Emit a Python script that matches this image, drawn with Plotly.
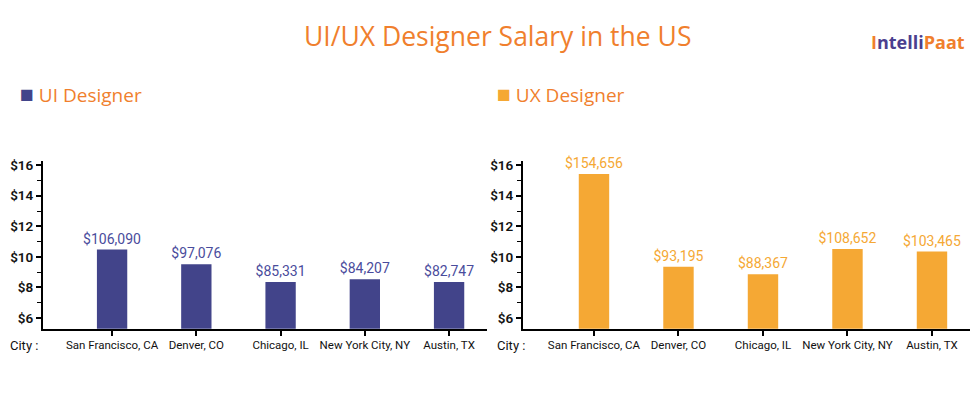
import plotly.graph_objects as go

cities = ["San Francisco, CA", "Denver, CO", "Chicago, IL", "New York City, NY", "Austin, TX"]
ui_salary = [106090, 97076, 85331, 84207, 82747]
ux_salary = [154656, 93195, 88367, 108652, 103465]
# bar heights as drawn (in $10k units)
ui_bar = [10.48, 9.51, 8.36, 8.53, 8.36]
ux_bar = [15.43, 9.35, 8.87, 10.51, 10.35]
y_ticks = [6, 8, 10, 12, 14, 16]
y_ticktext = ["$6", "$8", "$10", "$12", "$14", "$16"]

NAVY = "#42448A"
NAVY_TXT = "#4A4C9C"
ORANGE = "#F5A834"
TITLE_OR = "#F07F2D"
FONT = "Roboto"

fig = go.Figure()
fig.add_trace(go.Bar(
    x=cities, y=ui_bar, text=[f"${v:,}" for v in ui_salary],
    textposition="outside", cliponaxis=False, constraintext="none", width=0.36,
    marker=dict(color=NAVY, line=dict(width=0)),
    textfont=dict(family=FONT, size=14, color=NAVY_TXT),
    name="UI Designer", xaxis="x", yaxis="y", showlegend=False, hoverinfo="skip"))
fig.add_trace(go.Bar(
    x=cities, y=ux_bar, text=[f"${v:,}" for v in ux_salary],
    textposition="outside", cliponaxis=False, constraintext="none", width=0.36,
    marker=dict(color=ORANGE, line=dict(width=0)),
    textfont=dict(family=FONT, size=14, color=ORANGE),
    name="UX Designer", xaxis="x2", yaxis="y2", showlegend=False, hoverinfo="skip"))

ydom = [1 - 328 / 394, 1 - 159 / 394]
xaxis_common = dict(showline=True, linecolor="black", linewidth=2, ticks="outside",
                    tickcolor="black", ticklen=5, tickwidth=1.5, showgrid=False,
                    tickfont=dict(family=FONT, size=11.5, color="#111"), fixedrange=True)
yaxis_common = dict(showline=True, linecolor="black", linewidth=2, ticks="outside",
                    tickcolor="black", ticklen=5, tickwidth=1.5, showgrid=False,
                    tickmode="array", tickvals=y_ticks, ticktext=y_ticktext,
                    range=[5.3, 16.25], domain=ydom,
                    minor=dict(dtick=1, ticks="outside", ticklen=4, tickcolor="black", tickwidth=1.2),
                    tickfont=dict(family=FONT, size=13.5, color="#111", weight=600),
                    zeroline=False, fixedrange=True)

fig.update_layout(
    width=975, height=394, margin=dict(l=0, r=0, t=0, b=0),
    paper_bgcolor="white", plot_bgcolor="white",
    xaxis=dict(domain=[43 / 975, 487 / 975], range=[-0.82, 4.45], anchor="y", **xaxis_common),
    yaxis=dict(anchor="x", **yaxis_common),
    xaxis2=dict(domain=[523 / 975, 970 / 975], range=[-0.84, 4.45], anchor="y2", **xaxis_common),
    yaxis2=dict(anchor="x2", **yaxis_common),
    annotations=[
        dict(text="UI/UX Designer Salary in the US", x=497 / 975, y=1 - 32 / 394, xref="paper", yref="paper",
             xanchor="center", yanchor="middle", showarrow=False,
             font=dict(family="Open Sans", size=26.5, color=TITLE_OR)),
        dict(text=f"<span style='color:{NAVY};font-size:23px'>■</span> UI Designer", x=18 / 975, y=1 - 90 / 394,
             xref="paper", yref="paper", xanchor="left", yanchor="middle", showarrow=False,
             font=dict(family="Open Sans", size=19, color=TITLE_OR)),
        dict(text=f"<span style='color:{ORANGE};font-size:23px'>■</span> UX Designer", x=495 / 975, y=1 - 90 / 394,
             xref="paper", yref="paper", xanchor="left", yanchor="middle", showarrow=False,
             font=dict(family="Open Sans", size=19, color=TITLE_OR)),
        dict(text="City :", x=8 / 975, y=1 - 345 / 394, xref="paper", yref="paper",
             xanchor="left", yanchor="middle", showarrow=False,
             font=dict(family=FONT, size=13, color="#111")),
        dict(text="City :", x=495 / 975, y=1 - 345 / 394, xref="paper", yref="paper",
             xanchor="left", yanchor="middle", showarrow=False,
             font=dict(family=FONT, size=13, color="#111")),
        dict(text=f"<b><span style='color:{TITLE_OR}'>I</span><span style='color:#4B3F8F'>ntelli</span><span style='color:{TITLE_OR}'>Paat</span></b>",
             x=918 / 975, y=1 - 38 / 394, xref="paper", yref="paper",
             xanchor="center", yanchor="middle", showarrow=False,
             font=dict(family="Open Sans", size=18)),
    ],
)

fig.write_html("out.html", config={"displayModeBar": False},
               post_script="document.body.style.margin='0px';")
